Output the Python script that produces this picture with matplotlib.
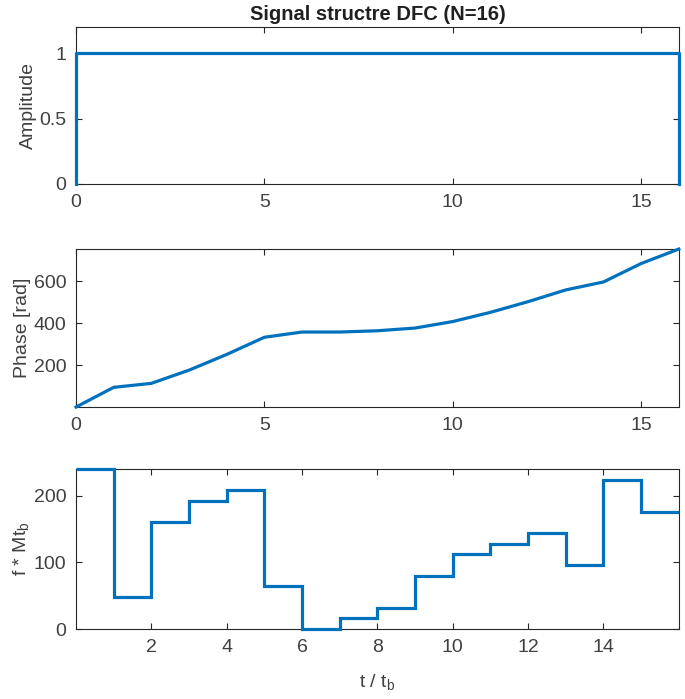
import numpy as np
import matplotlib
matplotlib.use("Agg")
import matplotlib.pyplot as plt

# Amplitude envelope
amp_t = [0, 0, 16, 16]
amp = [0, 1, 1, 0]

# Phase at each bit boundary
phase_t = list(range(17))
phase = [0, 94, 113, 176, 251, 333, 358, 358, 364, 377, 408, 452, 503, 559, 597, 685, 754]

# Frequency per bit (f * M t_b)
freq_edges = list(range(17))
freq = [240, 48, 160, 192, 208, 64, 0, 16, 32, 80, 112, 128, 144, 96, 224, 176]

blue = "#0072BD"
axcol = "#262626"
txtcol = "#404040"
plt.rcParams["font.family"] = ["Liberation Sans", "DejaVu Sans"]
plt.rcParams["font.size"] = 14

fig = plt.figure(figsize=(6.85, 6.99), dpi=100)
ax1 = fig.add_axes([0.111, 0.7368, 0.880, 0.2246])
ax2 = fig.add_axes([0.111, 0.4177, 0.880, 0.2260])
ax3 = fig.add_axes([0.111, 0.1001, 0.880, 0.2289])


def style(ax):
    for s in ax.spines.values():
        s.set_color(axcol)
        s.set_linewidth(0.8)
    ax.tick_params(direction="in", top=True, right=True, length=4, width=0.8,
                   colors=axcol, labelcolor=txtcol, labelsize=14, pad=7)


ax1.plot(amp_t, amp, color=blue, lw=2.3, clip_on=False, zorder=3)
ax1.set_xlim(0, 16)
ax1.set_ylim(0, 1.2)
ax1.set_xticks([0, 5, 10, 15])
ax1.set_yticks([0, 0.5, 1])
ax1.set_yticklabels(["0", "0.5", "1"])
ax1.set_ylabel("Amplitude", color=txtcol, fontsize=14, labelpad=1.5)
ax1.set_title("Signal structre DFC (N=16)", fontsize=14.5, fontweight="bold",
              color="#202020", pad=5)
style(ax1)

ax2.plot(phase_t, phase, color=blue, lw=2.3, clip_on=False, zorder=3)
ax2.set_xlim(0, 16)
ax2.set_ylim(0, max(phase))
ax2.set_xticks([0, 5, 10, 15])
ax2.set_yticks([200, 400, 600])
ax2.set_ylabel("Phase [rad]", color=txtcol, fontsize=14, labelpad=1.5)
style(ax2)

ax3.stairs(freq, freq_edges, color=blue, lw=2.3, clip_on=False, baseline=None, zorder=3)
ax3.set_xlim(0, 16)
ax3.set_ylim(0, 240)
ax3.set_xticks([2, 4, 6, 8, 10, 12, 14])
ax3.set_yticks([0, 100, 200])
ax3.set_ylabel("f * Mt$_\\mathregular{b}$", color=txtcol, fontsize=14, labelpad=1.5)
ax3.set_xlabel("t / t$_\\mathregular{b}$", color=txtcol, fontsize=14, labelpad=12)
style(ax3)

fig.savefig("out.png", dpi=100)
